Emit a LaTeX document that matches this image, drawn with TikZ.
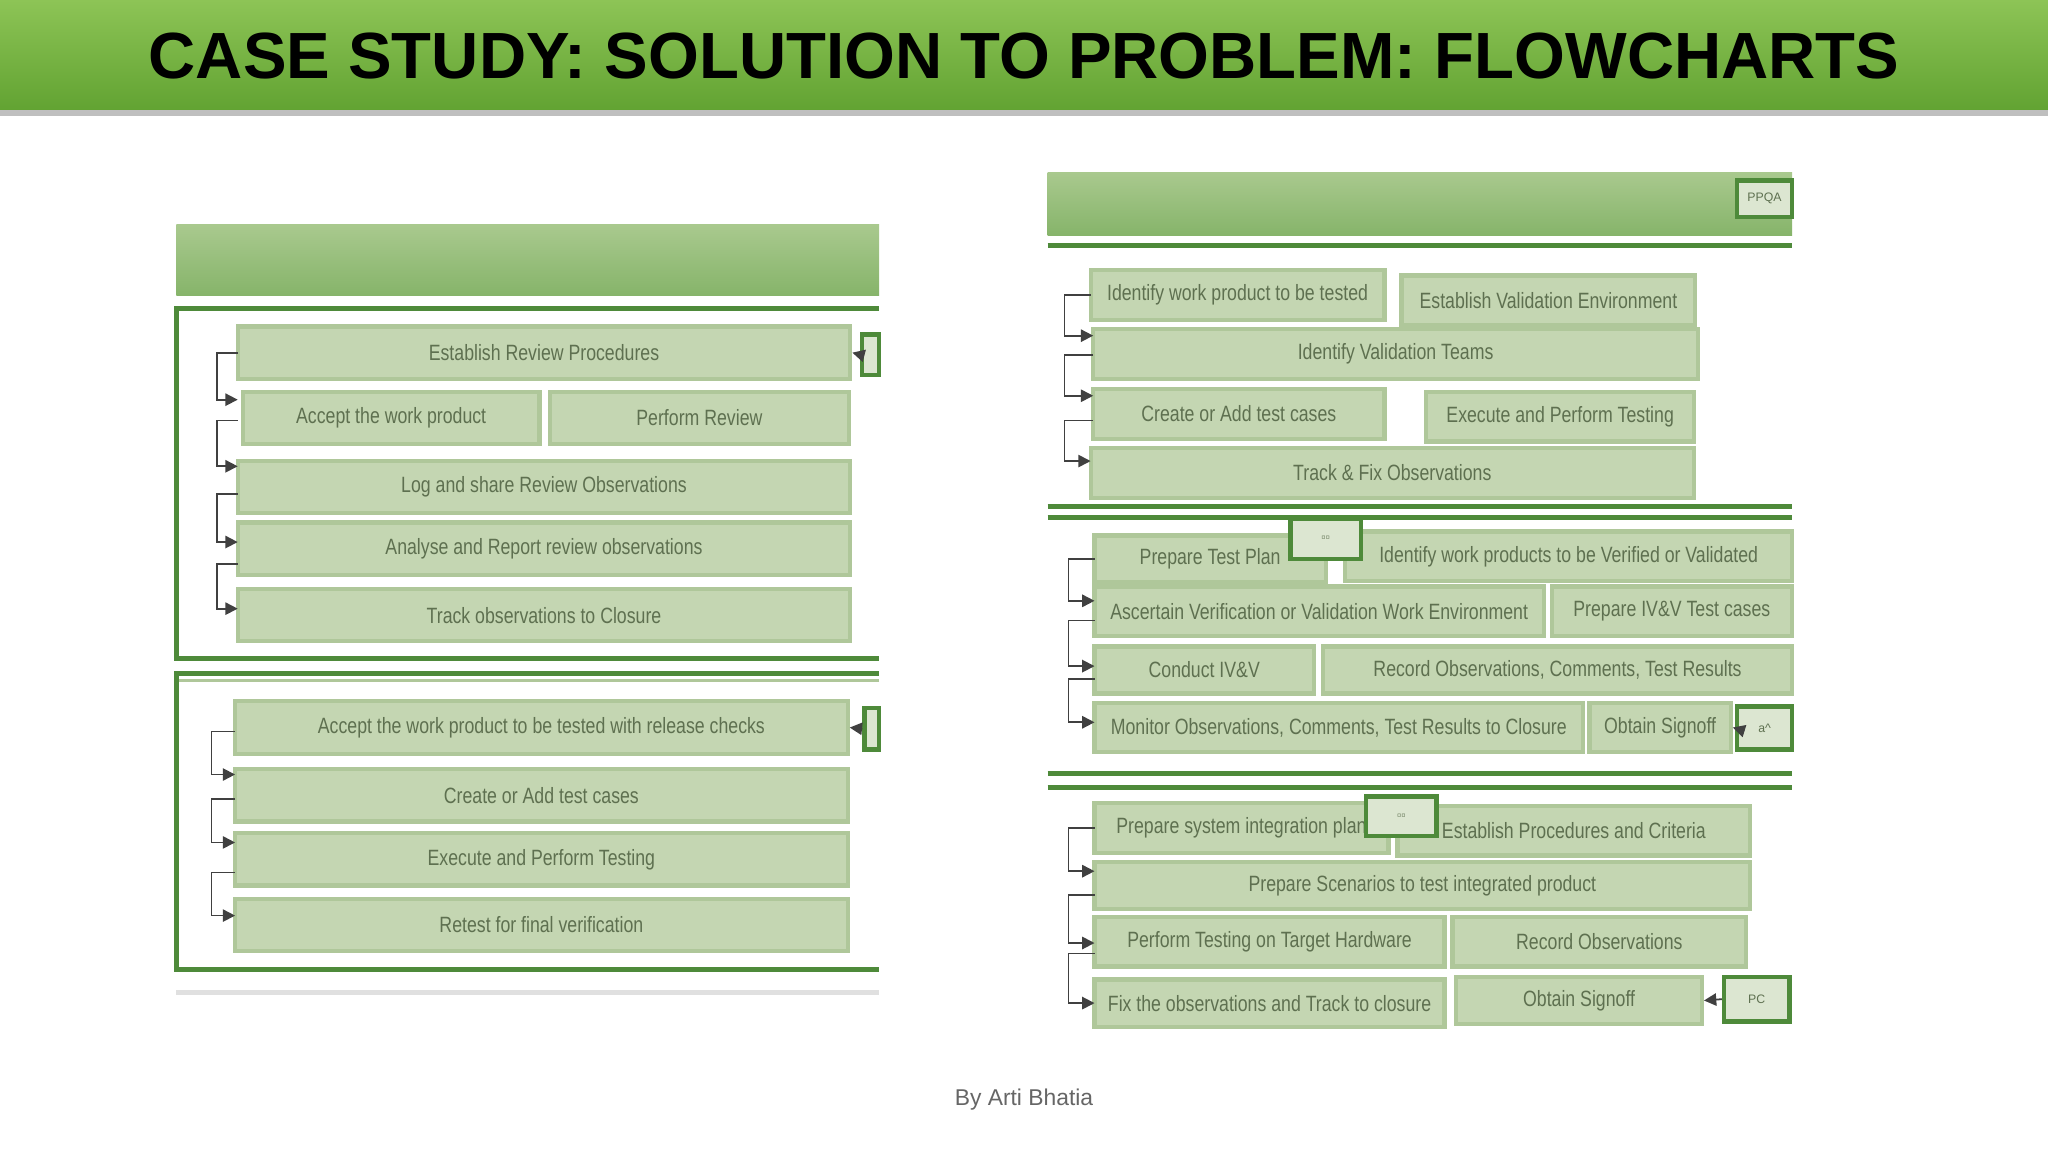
\documentclass[tikz,border=0pt]{standalone}
\usepackage{fontspec}
\setmainfont{Liberation Sans}
\usetikzlibrary{fit,arrows.meta}
\definecolor{boxfill}{HTML}{C4D6B2}
\definecolor{boxline}{HTML}{AFC79A}
\definecolor{boxtext}{HTML}{5E7050}
\definecolor{frame}{HTML}{4E8A3A}
\definecolor{titleA}{HTML}{8DC456}
\definecolor{titleB}{HTML}{62A332}
\definecolor{headA}{HTML}{A9C98E}
\definecolor{headB}{HTML}{86B46A}
\tikzset{
 box/.style={draw=boxline,fill=boxfill,line width=1.2pt,inner sep=0pt},
 lbl/.style={text=boxtext,font=\fontsize{6.3}{7}\selectfont,xscale=0.8},
 conn/.style={draw=black!75,line width=0.5pt,-{Triangle[length=3.5pt,width=3.5pt]}},
 frm/.style={draw=frame,line width=1.4pt},
 icon/.style={draw=frame,line width=1.3pt,fill=boxfill!60,inner sep=0pt},
 iclbl/.style={text=boxtext,font=\fontsize{3.5}{4}\selectfont}
}
\newcommand{\bx}[6]{\node[box,fit={(#2,#3)(#4,#5)}] (#1) {};\node[lbl] at (#1) {#6};}
\newcommand{\ic}[6]{\node[icon,fit={(#2,#3)(#4,#5)}] (#1) {};\node[iclbl] at (#1) {#6};}
% \cn{xstart}{ystart}{xvert}{yend}{xend}
\newcommand{\cn}[5]{\coordinate (cs) at (#1,#2);\coordinate (ct) at (#5,#4);\draw[conn] (cs) -- (#3,#2) |- (ct);}
\begin{document}
\begin{tikzpicture}[x=0.013061cm,y=-0.013061cm]
\useasboundingbox (0,0) rectangle (1568,882);
\fill[white] (0,0) rectangle (1568,882);
% title
\fill[black!25] (0,84) rectangle (1568,89);
\shade[top color=titleA,bottom color=titleB] (0,0) rectangle (1568,84);
\node[font=\bfseries] (title) at (784,43) {\resizebox{498pt}{!}{CASE STUDY: SOLUTION TO PROBLEM: FLOWCHARTS}};
% ---------- left panel 1
\shade[top color=headA,bottom color=headB] (135,172) rectangle (673,226);
\draw[frm] (673,236) -- (135,236) -- (135,504) -- (673,504);
\bx{a1}{182}{250}{651}{290}{Establish Review Procedures}
\bx{a2}{186}{300}{413}{340}{Accept the work product}
\bx{a3}{421}{300}{650}{340}{Perform Review}
\bx{a4}{182}{353}{651}{393}{Log and share Review Observations}
\bx{a5}{182}{400}{651}{440}{Analyse and Report review observations}
\bx{a6}{182}{451}{651}{491}{Track observations to Closure}
\ic{ai}{660}{256}{673}{287}{}
\draw[conn] (ai.west) -- (a1.east);
\cn{182}{270}{166}{306}{182}
\cn{182}{322}{166}{357}{182}
\cn{182}{378}{166}{415}{182}
\cn{182}{432}{166}{466}{182}
% ---------- left panel 2
\draw[frm] (673,516) -- (135,516) -- (135,742) -- (673,742);
\draw[boxline,line width=1pt] (673,521) -- (137,521);
\draw[black!12,line width=1.5pt] (135,760) -- (673,760);
\bx{b1}{180}{537}{649}{577}{Accept the work product to be tested with release checks}
\bx{b2}{180}{589}{649}{629}{Create or Add test cases}
\bx{b3}{180}{638}{649}{678}{Execute and Perform Testing}
\bx{b4}{180}{688}{649}{728}{Retest for final verification}
\ic{bi}{662}{542}{673}{574}{}
\draw[conn] (bi.west) -- (b1.east);
\cn{180}{560}{162}{593}{180}
\cn{180}{612}{162}{645}{180}
\cn{180}{668}{162}{701}{180}
% ---------- right panel
\shade[top color=headA,bottom color=headB] (802,132) rectangle (1372,180);
\draw[frm] (802,188) -- (1372,188);
\ic{pq}{1330}{138}{1372}{166}{PPQA}
\bx{c1}{835}{207}{1060}{245}{Identify work product to be tested}
\bx{c2}{1073}{211}{1298}{249}{Establish Validation Environment}
\bx{c3}{837}{252}{1300}{290}{Identify Validation Teams}
\bx{c4}{837}{298}{1060}{336}{Create or Add test cases}
\bx{c5}{1092}{300}{1297}{338}{Execute and Perform Testing}
\bx{c6}{835}{343}{1297}{381}{Track \& Fix Observations}
\cn{835}{226}{815}{257}{837}
\cn{837}{272}{815}{303}{837}
\cn{837}{322}{815}{353}{835}
\draw[frm] (802,388) -- (1372,388);
\draw[frm] (802,396) -- (1372,396);
% section 2
\bx{d1}{838}{410}{1015}{446}{Prepare Test Plan}
\bx{d2}{1030}{407}{1372}{445}{Identify work products to be Verified or Validated}
\ic{di}{988}{397}{1042}{428}{▫▫}
\bx{d3}{838}{449}{1182}{487}{Ascertain Verification or Validation Work Environment}
\bx{d4}{1188}{449}{1372}{487}{Prepare IV\&V Test cases}
\bx{d5}{838}{495}{1006}{531}{Conduct IV\&V}
\bx{d6}{1013}{495}{1372}{531}{Record Observations, Comments, Test Results}
\bx{d7}{838}{538}{1212}{576}{Monitor Observations, Comments, Test Results to Closure}
\bx{d8}{1217}{538}{1325}{576}{Obtain Signoff}
\ic{dj}{1330}{541}{1372}{574}{a\^{}}
\draw[conn] (dj.west) -- (d8.east);
\cn{838}{428}{818}{460}{838}
\cn{838}{475}{818}{510}{838}
\cn{838}{520}{818}{553}{838}
\draw[frm] (802,592) -- (1372,592);
\draw[frm] (802,603) -- (1372,603);
% section 3
\bx{e1}{838}{615}{1063}{653}{Prepare system integration plan}
\bx{e2}{1070}{617}{1340}{655}{Establish Procedures and Criteria}
\ic{ei}{1046}{610}{1100}{640}{▫▫}
\bx{e3}{838}{660}{1340}{696}{Prepare Scenarios to test integrated product}
\bx{e4}{838}{702}{1106}{740}{Perform Testing on Target Hardware}
\bx{e5}{1112}{702}{1337}{740}{Record Observations}
\bx{e6}{838}{750}{1106}{786}{Fix the observations and Track to closure}
\bx{e7}{1115}{748}{1303}{784}{Obtain Signoff}
\ic{ej}{1320}{748}{1370}{782}{PC}
\draw[conn] (ej.west) -- (e7.east);
\cn{838}{634}{818}{667}{838}
\cn{838}{685}{818}{722}{838}
\cn{838}{730}{818}{768}{838}
% footer
\node[text=black!60,font=\fontsize{6.5}{8}\selectfont] (foot) at (784,842) {By Arti Bhatia};
\end{tikzpicture}
\end{document}
